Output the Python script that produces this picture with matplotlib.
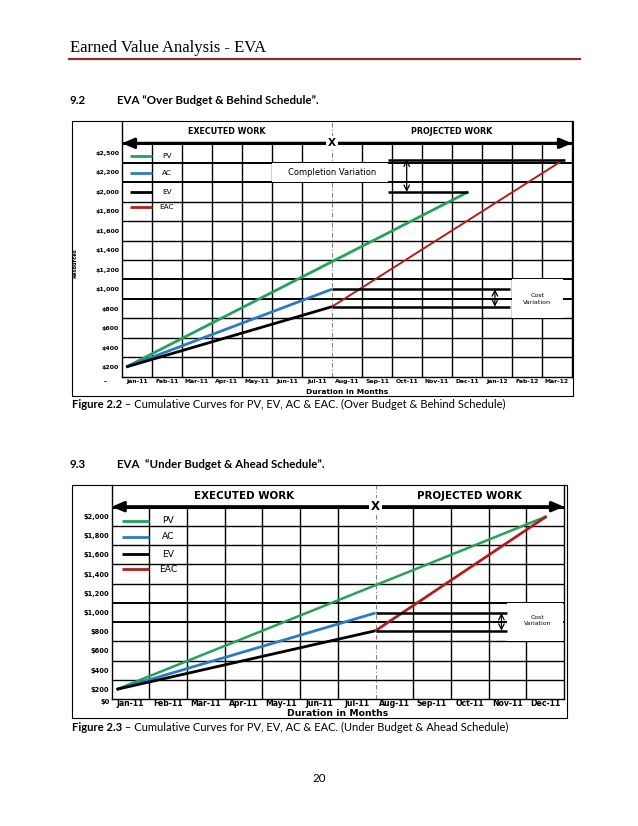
import numpy as np
import matplotlib
matplotlib.use('Agg')
import matplotlib.pyplot as plt
from matplotlib.patches import Rectangle
from matplotlib.lines import Line2D
from matplotlib.transforms import blended_transform_factory

plt.rcParams['text.parse_math'] = False

# ---- values ----
months1 = ['Jan-11', 'Feb-11', 'Mar-11', 'Apr-11', 'May-11', 'Jun-11', 'Jul-11', 'Aug-11',
           'Sep-11', 'Oct-11', 'Nov-11', 'Dec-11', 'Jan-12', 'Feb-12', 'Mar-12']
ticks1 = [200, 400, 600, 800, 1000, 1200, 1400, 1600, 1800, 2000, 2200, 2500]
months2 = months1[:12]
ticks2 = [200, 400, 600, 800, 1000, 1200, 1400, 1600, 1800, 2000]

# x = month index (Jan-11 = 0), y = dollars
pv1_x = [-0.36, 11.04]
pv1_y = [200, 2000]
ac1_x = [-0.36, 6.5]
ac1_y = [200, 1000]
ev1_x = [-0.36, 6.5]
ev1_y = [200, 820]
eac1_x = [6.5, 14.23]
eac1_y = [820, 2400]

pv2_x = [-0.37, 11.04]
pv2_y = [200, 2000]
ac2_x = [-0.37, 6.5]
ac2_y = [200, 995]
ev2_x = [-0.37, 6.5]
ev2_y = [200, 810]
eac2_x = [6.5, 11.04]
eac2_y = [810, 2000]

names = ['PV', 'AC', 'EV', 'EAC']
colors = ['#22a35a', '#2b7bbf', '#000000', '#b01e1e']

W, H = 638, 826
fig = plt.figure(figsize=(W / 100, H / 100), dpi=100)


def fx(x):
    return x / W


def fy(y):
    return 1 - y / H


def money(v):
    return '${:,}'.format(v)


def eva_chart(ax, months, ticks, series, bounds, thick, head_y, leg_y, fs):
    n = len(months)
    top = bounds[-1]
    ax.set_xlim(-0.5, n - 0.5)
    ax.spines['top'].set_visible(False)
    for s in ['left', 'right', 'bottom']:
        ax.spines[s].set_linewidth(1.0)
    # grid (drawn as a table, column 6.5 is the dashed "today" line)
    xs = [i - 0.5 for i in range(1, n) if i - 0.5 != 6.5]
    ax.vlines(xs, bounds[0], top, color='black', lw=1.0, zorder=1)
    for b in bounds[1:-1]:
        ax.axhline(b, color='black', lw=1.4 if b in thick else 1.0, zorder=1)
    ax.axvline(6.5, color='#808080', lw=0.8, ls=(0, (4, 2, 1, 2)), zorder=1)

    ax.set_xticks(range(n), months)
    ax.set_yticks(ticks, [money(t) for t in ticks])
    ax.tick_params(length=0)
    for lab in ax.get_xticklabels():
        lab.set_fontsize(fs['xt'])
        lab.set_fontweight('bold')
    for lab in ax.get_yticklabels():
        lab.set_fontsize(fs['yt'])
        lab.set_fontweight('bold')

    # header
    tr = blended_transform_factory(ax.transData, ax.transAxes)
    ax.text(3.0, head_y, 'EXECUTED WORK', transform=tr, ha='center', va='center',
            fontsize=fs['head'], fontweight='bold')
    ax.text((6.5 + n - 0.5) / 2, head_y, 'PROJECTED WORK', transform=tr, ha='center',
            va='center', fontsize=fs['head'], fontweight='bold')
    ax.plot([-0.5, n - 0.5], [top, top], color='black', lw=2.2, zorder=4,
            solid_capstyle='butt')
    for end in (-0.5, n - 0.5):
        ax.annotate('', xy=(end, top), xytext=(6.5, top), zorder=4,
                    arrowprops=dict(arrowstyle='-|>,head_length=0.7,head_width=0.3',
                                    color='black', lw=2.2, shrinkA=0, shrinkB=0,
                                    mutation_scale=10))
    ax.text(6.5, top, 'X', ha='center', va='center', fontsize=fs['x'], fontweight='bold',
            zorder=6, bbox=dict(fc='white', ec='none', pad=1.5))

    # series
    for (x, y), c, lw in zip(series, colors, fs['lw']):
        ax.plot(x, y, color=c, lw=lw, zorder=3, solid_capstyle='butt')

    # legend inside first columns
    for name, c, y in zip(names, colors, leg_y):
        ax.plot([-0.22, 0.5], [y, y], color=c, lw=2, zorder=3, solid_capstyle='butt')
        ax.text(1.0, y, name, ha='center', va='center', fontsize=fs['leg'], zorder=4)

    ax.set_xlabel('Duration in Months', fontsize=fs['xl'], fontweight='bold', va='center')


def cost_variation(ax, y_hi, y_lo, x_end, x_arrow, box, txt_xy, fs):
    ax.hlines([y_hi, y_lo], 6.5, x_end, color='black', lw=1.8, zorder=4)
    ax.annotate('', xy=(x_arrow, y_hi), xytext=(x_arrow, y_lo), zorder=4,
                arrowprops=dict(arrowstyle='<->,head_length=0.5,head_width=0.25',
                                color='black', lw=0.9, shrinkA=0, shrinkB=0,
                                mutation_scale=8))
    ax.add_patch(Rectangle((box[0], box[1]), box[2], box[3], fc='white', ec='none', zorder=2))
    ax.text(txt_xy[0], txt_xy[1], 'Cost\nVariation', ha='center', va='center',
            fontsize=fs, linespacing=1.3, zorder=5)


# ---------- chart 1 : over budget & behind schedule ----------
ax1 = fig.add_axes([fx(122), fy(376.7), 450 / W, 255.7 / H])
kv = [-2000, 0, 2000, 2200, 2500, 6000]
kr = [-10, 0, 10, 11, 12, 12 + 3500 / 300]
ax1.set_yscale('function', functions=(lambda v: np.interp(v, kv, kr),
                                      lambda r: np.interp(r, kr, kv)))
ax1.set_ylim(100, 2994)
bounds1 = [100, 300, 500, 700, 900, 1100, 1300, 1500, 1700, 1900, 2100, 2350, 2650]
eva_chart(ax1, months1, ticks1,
          [(pv1_x, pv1_y), (ac1_x, ac1_y), (ev1_x, ev1_y), (eac1_x, eac1_y)],
          bounds1, [900, 1100, 2100, 2350], 0.957, [2449, 2196, 2004, 1850],
          dict(xt=4.4, yt=4.5, head=5.8, x=7.5, leg=5.3, xl=5.4, lw=[2, 2, 2, 1.4]))
ax1.tick_params(axis='x', pad=1.5)
ax1.tick_params(axis='y', pad=2.0)
ax1.xaxis.set_label_coords(0.5, -0.0587)
ax1.set_ylabel('Resources', fontsize=3.7, fontweight='bold')
ax1.yaxis.set_label_coords(-0.0978, 0.4447)
ax1.text(-0.0378, -0.0196, '-', transform=ax1.transAxes, ha='center', va='center',
         fontsize=5, fontweight='bold')

cost_variation(ax1, ac1_y[-1], ev1_y[-1], 12.43, 11.93, (12.5, 700, 1.7, 400),
               (13.34, 900), 4.5)
# completion variation
ax1.add_patch(Rectangle((4.5, 2100), 3.88, 250, fc='white', ec='none', zorder=2))
ax1.text(6.5, 2200, 'Completion Variation', ha='center', va='center', fontsize=6, zorder=5)
ax1.hlines(eac1_y[-1], 8.38, 14.26, color='black', lw=1.8, zorder=4)
ax1.hlines(pv1_y[-1], 8.38, pv1_x[-1], color='black', lw=1.8, zorder=4)
ax1.annotate('', xy=(8.99, eac1_y[-1]), xytext=(8.99, pv1_y[-1]), zorder=4,
             arrowprops=dict(arrowstyle='<->,head_length=0.5,head_width=0.25',
                             color='black', lw=0.9, shrinkA=0, shrinkB=0, mutation_scale=8))

# ---------- chart 2 : under budget & ahead schedule ----------
ax2 = fig.add_axes([fx(111.7), fy(699), 452.3 / W, 214 / H])
ax2.set_ylim(100, 2325.6)
bounds2 = [100, 300, 500, 700, 900, 1100, 1300, 1500, 1700, 1900, 2100]
eva_chart(ax2, months2, ticks2,
          [(pv2_x, pv2_y), (ac2_x, ac2_y), (ev2_x, ev2_y), (eac2_x, eac2_y)],
          bounds2, [900, 1100], 0.9486, [1954, 1786, 1606, 1450],
          dict(xt=5.6, yt=4.8, head=7.4, x=8.5, leg=6.6, xl=6.7, lw=[1.8, 2, 2, 2]))
ax2.tick_params(axis='x', pad=0)
ax2.tick_params(axis='y', pad=1.7)
ax2.xaxis.set_label_coords(0.5, -0.0668)
ax2.text(-0.0053, -0.0126, '$0', transform=ax2.transAxes, ha='right', va='center',
         fontsize=4.8, fontweight='bold')
cost_variation(ax2, ac2_y[-1], ev2_y[-1], 9.98, 9.84, (9.98, 700, 1.5, 400),
               (10.8, 920), 4.4)

# ---------- page furniture ----------
for x0, y0, x1, y1 in [(72, 121, 573, 396.5), (71.7, 485, 566.7, 717.7)]:
    fig.add_artist(Rectangle((fx(x0), fy(y1)), (x1 - x0) / W, (y1 - y0) / H,
                             transform=fig.transFigure, fill=False, ec='black', lw=0.8))

fig.text(fx(70), fy(52.5), 'Earned Value Analysis - EVA', family='Liberation Serif',
         fontsize=12, va='baseline')
fig.add_artist(Line2D([fx(69), fx(580)], [fy(58.5), fy(58.5)], color='#84302d', lw=1.6,
                      transform=fig.transFigure))

head_font = dict(family='Lato', fontsize=8.3, fontweight='bold', va='center')
fig.text(fx(70), fy(100), '9.2', **head_font)
fig.text(fx(117), fy(100), 'EVA \u201cOver Budget & Behind Schedule\u201d.', **head_font)
fig.text(fx(70), fy(465), '9.3', **head_font)
fig.text(fx(117), fy(465), 'EVA  \u201cUnder Budget & Ahead Schedule\u201d.', **head_font)

cap_bold = []
for y, rest, num in [(408, ' \u2013 Cumulative Curves for PV, EV, AC & EAC. (Over Budget & Behind Schedule)', '2.2'),
                     (731, ' \u2013 Cumulative Curves for PV, EV, AC & EAC. (Under Budget & Ahead Schedule)', '2.3')]:
    t = fig.text(fx(71.7), fy(y), 'Figure ' + num, family='Lato', fontsize=8.1,
                 fontweight='bold', va='baseline')
    cap_bold.append((t, rest, y))
fig.text(fx(319), fy(779), '20', family='Lato', fontsize=8.3, ha='center', va='center')

fig.canvas.draw()
for t, rest, y in cap_bold:
    bb = t.get_window_extent()
    fig.text(bb.x1 / fig.bbox.width, fy(y), rest, family='Lato', fontsize=8.0,
             va='baseline')

fig.savefig('out.png', dpi=100)
